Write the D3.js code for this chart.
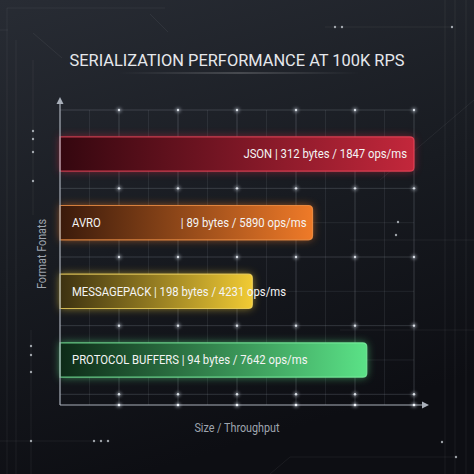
<!DOCTYPE html>
<html>
<head>
<meta charset="utf-8">
<script src="https://cdn.jsdelivr.net/npm/d3@7"></script>
<style>
  html, body { margin: 0; padding: 0; background: #111318; }
  svg text { font-family: Roboto, "Noto Sans", sans-serif; }
</style>
</head>
<body>
<div id="chart"></div>
<script>
// chart data
var formats = ["JSON", "AVRO", "MESSAGEPACK", "PROTOCOL BUFFERS"];
var sizeBytes = [312, 89, 198, 94];
var opsPerMs = [1847, 5890, 4231, 7642];
var barScore = [300, 214, 163, 260];   // bar length as drawn
var xTicks = [50, 100, 150, 200, 250, 300];

var W = 474, H = 474;
var margin = {left: 60, right: 60, top: 110, bottom: 69};

var svg = d3.select("#chart").append("svg")
    .attr("width", W).attr("height", H);

var defs = svg.append("defs");

// background
var bg = defs.append("linearGradient").attr("id", "bg")
    .attr("x1", "0").attr("y1", "0").attr("x2", "0.3").attr("y2", "1");
bg.append("stop").attr("offset", "0").attr("stop-color", "#282c34");
bg.append("stop").attr("offset", "0.55").attr("stop-color", "#181b21");
bg.append("stop").attr("offset", "1").attr("stop-color", "#0d0e13");
svg.append("rect").attr("width", W).attr("height", H).attr("fill", "url(#bg)");

var glow = defs.append("filter").attr("id", "glow")
    .attr("x", "-20%").attr("y", "-60%").attr("width", "140%").attr("height", "220%");
glow.append("feGaussianBlur").attr("stdDeviation", 4);

var dotGlow = defs.append("filter").attr("id", "dotglow")
    .attr("x", "-200%").attr("y", "-200%").attr("width", "500%").attr("height", "500%");
dotGlow.append("feGaussianBlur").attr("stdDeviation", 1.4);

// decorative circuit lines
var deco = svg.append("g").attr("fill", "none").attr("stroke", "#ffffff").attr("stroke-width", 1);
var decoPaths = [
  "M7,474 V8 H165", "M16,474 V40", "M33,60 V215", "M31,330 V474",
  "M0,441 H110", "M33,33 L62,58", "M150,14 L168,32",
  "M325,27 H452", "M445,0 V474", "M455,0 V474", "M466,0 V474",
  "M270,474 L290,457 H456", "M350,240 H474", "M380,180 L474,100",
  "M0,30 H8", "M340,330 H474"
];
deco.selectAll("path").data(decoPaths).enter().append("path")
    .attr("d", d => d).attr("stroke-opacity", 0.06);

var decoDots = [[33,131],[33,139],[33,152],[33,181],[31,346],[31,355],[31,372],
  [31,441],[94,441],[101,441],[108,441],[442,442],[456,457],[452,27],[335,27],[342,27],[398,222],[396,235]];
svg.append("g").selectAll("circle").data(decoDots).enter().append("circle")
    .attr("cx", d => d[0]).attr("cy", d => d[1]).attr("r", 1.2)
    .attr("fill", "#e8eef5").attr("opacity", 0.65);

// title
svg.append("text")
    .attr("x", W / 2).attr("y", 65.5)
    .attr("text-anchor", "middle")
    .attr("fill", "#e6e8ec")
    .style("font-size", "16.4px")
    .text("SERIALIZATION PERFORMANCE AT 100K RPS");

var tl = defs.append("linearGradient").attr("id", "titleLine");
tl.append("stop").attr("offset", "0").attr("stop-color", "#fff").attr("stop-opacity", 0);
tl.append("stop").attr("offset", "0.5").attr("stop-color", "#fff").attr("stop-opacity", 0.35);
tl.append("stop").attr("offset", "1").attr("stop-color", "#fff").attr("stop-opacity", 0);
svg.append("rect").attr("x", 118).attr("y", 72.5).attr("width", 242).attr("height", 1)
    .attr("fill", "url(#titleLine)");

// scales
var x = d3.scaleLinear().domain([0, 300]).range([margin.left, 414]);
var y = d3.scaleBand().domain(formats).range([119.7, 394.3]).paddingInner(0.5).paddingOuter(0.25);
var axisY = H - margin.bottom;

// grid
var grid = svg.append("g");
var minorX = d3.range(25, 301, 50);
grid.selectAll(".vmaj").data(xTicks).enter().append("line")
    .attr("x1", d => x(d)).attr("x2", d => x(d))
    .attr("y1", margin.top).attr("y2", axisY)
    .attr("stroke", "#c8d0dc").attr("stroke-opacity", 0.2);
grid.selectAll(".vmin").data(minorX).enter().append("line")
    .attr("x1", d => x(d)).attr("x2", d => x(d))
    .attr("y1", margin.top).attr("y2", axisY)
    .attr("stroke", "#c8d0dc").attr("stroke-opacity", 0.09);

var step = y.step();
var hMajor = [margin.top].concat(formats.map(f => y(f) + y.bandwidth() / 2 + step / 2));
var hMinor = formats.map(f => y(f) + y.bandwidth() / 2);
grid.selectAll(".hmaj").data(hMajor).enter().append("line")
    .attr("x1", margin.left).attr("x2", x(300))
    .attr("y1", d => d).attr("y2", d => d)
    .attr("stroke", "#c8d0dc").attr("stroke-opacity", 0.18);
grid.selectAll(".hmin").data(hMinor).enter().append("line")
    .attr("x1", margin.left).attr("x2", x(300))
    .attr("y1", d => d).attr("y2", d => d)
    .attr("stroke", "#c8d0dc").attr("stroke-opacity", 0.09);

// glowing dots at grid crossings
var crossings = [];
hMajor.forEach(function(hy) {
  xTicks.forEach(function(t) { crossings.push([x(t), hy]); });
});
var dots = grid.selectAll(".dot").data(crossings).enter().append("g");
dots.append("circle").attr("cx", d => d[0]).attr("cy", d => d[1]).attr("r", 2.6)
    .attr("fill", "#dfe8f5").attr("opacity", 0.4).attr("filter", "url(#dotglow)");
dots.append("circle").attr("cx", d => d[0]).attr("cy", d => d[1]).attr("r", 1.2)
    .attr("fill", "#eef3f9").attr("opacity", 0.85);

// bars
var barColors = {
  "JSON": ["#34070f", "#c3273b", "#ef4a5e"],
  "AVRO": ["#3a1a0b", "#ef7a28", "#ff9a4a"],
  "MESSAGEPACK": ["#3c3110", "#f1cb34", "#ffe066"],
  "PROTOCOL BUFFERS": ["#0d2a17", "#5be287", "#7ff3a3"]
};

formats.forEach(function(f, i) {
  var g = defs.append("linearGradient").attr("id", "grad" + i);
  g.append("stop").attr("offset", "0").attr("stop-color", barColors[f][0]);
  g.append("stop").attr("offset", "0.45").attr("stop-color", d3.interpolateRgb(barColors[f][0], barColors[f][1])(0.45));
  g.append("stop").attr("offset", "1").attr("stop-color", barColors[f][1]);
});

function barPath(x0, x1, y0, h, r) {
  return "M" + x0 + "," + y0 + " H" + (x1 - r) + " Q" + x1 + "," + y0 + " " + x1 + "," + (y0 + r) +
    " V" + (y0 + h - r) + " Q" + x1 + "," + (y0 + h) + " " + (x1 - r) + "," + (y0 + h) +
    " H" + x0 + " Z";
}

var bars = svg.append("g").selectAll("g").data(formats).enter().append("g");

bars.append("path")
    .attr("d", (d, i) => barPath(x(0), x(barScore[i]), y(d), y.bandwidth(), 4))
    .attr("fill", d => barColors[d][1])
    .attr("opacity", 0.6)
    .attr("filter", "url(#glow)");

bars.append("path")
    .attr("d", (d, i) => barPath(x(0), x(barScore[i]), y(d), y.bandwidth(), 4))
    .attr("fill", (d, i) => "url(#grad" + i + ")")
    .attr("stroke", d => barColors[d][2])
    .attr("stroke-opacity", 0.75)
    .attr("stroke-width", 1.2);

// bar labels (slightly condensed Roboto)
var detail = formats.map((f, i) => "| " + sizeBytes[i] + " bytes / " + opsPerMs[i] + " ops/ms");
var labelStyle = {"JSON": "end", "AVRO": "split"};

function label(g, tx, ty, anchor, str) {
  g.append("text")
    .attr("transform", "translate(" + tx + "," + ty + ") scale(0.92,1)")
    .attr("text-anchor", anchor)
    .attr("fill", "#f4f4f4")
    .style("font-size", "12.3px")
    .text(str);
}

bars.each(function(f, i) {
  var g = d3.select(this);
  var cy = y(f) + y.bandwidth() / 2 + 4.3;
  var mode = labelStyle[f] || "start";
  if (mode === "end") {
    label(g, x(barScore[i]) - 7, cy, "end", f + " " + detail[i]);
  } else if (mode === "split") {
    label(g, 72, cy, "start", f);
    label(g, x(barScore[i]) - 6, cy, "end", detail[i]);
  } else {
    label(g, 72, cy, "start", f + " " + detail[i]);
  }
});

// axes
var axisCol = "#a9b0ba";
svg.append("line").attr("x1", margin.left).attr("x2", margin.left)
    .attr("y1", 101).attr("y2", axisY).attr("stroke", axisCol).attr("stroke-width", 1.2);
svg.append("path").attr("d", "M" + margin.left + ",97 l-3.5,7 h7 Z").attr("fill", axisCol);
svg.append("line").attr("x1", margin.left).attr("x2", 426)
    .attr("y1", axisY).attr("y2", axisY).attr("stroke", axisCol).attr("stroke-width", 1.2);
svg.append("path").attr("d", "M429," + axisY + " l-7,-3.5 v7 Z").attr("fill", axisCol);

var xAxis = d3.axisBottom(x).tickValues(xTicks).tickSize(0).tickFormat("");
svg.append("g").attr("transform", "translate(0," + axisY + ")").call(xAxis)
    .call(g => g.select(".domain").remove());
var axisDots = svg.append("g").selectAll("g").data(xTicks).enter().append("g");
axisDots.append("circle").attr("cx", d => x(d)).attr("cy", axisY).attr("r", 2.6)
    .attr("fill", "#dfe8f5").attr("opacity", 0.45).attr("filter", "url(#dotglow)");
axisDots.append("circle").attr("cx", d => x(d)).attr("cy", axisY).attr("r", 1.3)
    .attr("fill", "#f2f6fb");

// axis titles
svg.append("text")
    .attr("transform", "translate(" + (W / 2) + ",432) scale(0.9,1)")
    .attr("text-anchor", "middle")
    .attr("fill", "#9ea4ae")
    .style("font-size", "12px")
    .text("Size / Throughput");

svg.append("text")
    .attr("transform", "translate(46,254) rotate(-90) scale(0.9,1)")
    .attr("text-anchor", "middle")
    .attr("fill", "#9ea4ae")
    .style("font-size", "12px")
    .text("Format Fonats");
</script>
</body>
</html>
